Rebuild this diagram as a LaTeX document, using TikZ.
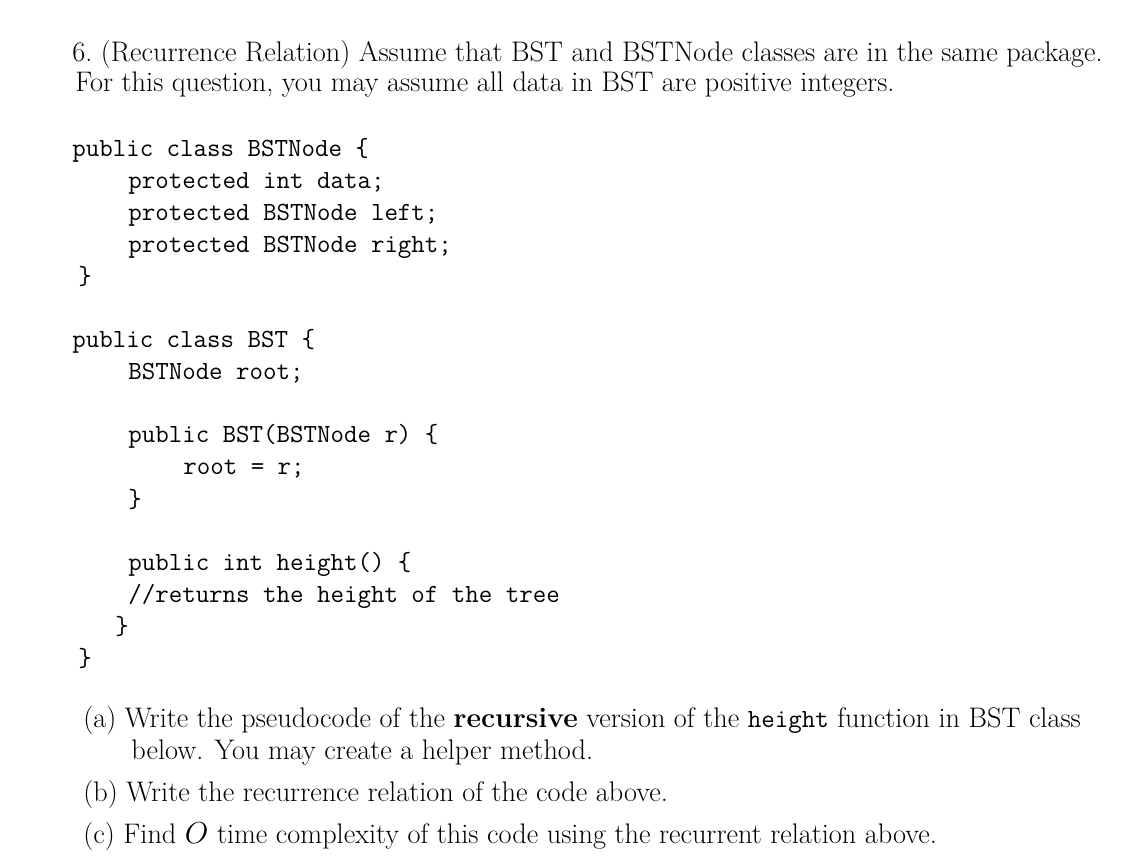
\documentclass[tikz,border=0pt]{standalone}
\begin{document}
\begin{tikzpicture}[x=0.02cm,y=-0.02cm,
  t/.style={anchor=base west,inner sep=0pt,font=\fontsize{16.1}{20}\selectfont},
  c/.style={anchor=base west,inner sep=0pt,font=\fontsize{14.9}{20}\selectfont\ttfamily}]
\useasboundingbox (0,0) rectangle (1132,864);
\node[t] (l1) at (72,62) {6.\ (Recurrence Relation) Assume that BST and BSTNode classes are in the same package.};
\node[t] (l2) at (75,92) {For this question, you may assume all data in BST are positive integers.};
\node[c] (c1) at (72,157) {public class BSTNode \{};
\node[c] (c2) at (128,189) {protected int data;};
\node[c] (c3) at (128,221) {protected BSTNode left;};
\node[c] (c4) at (128,253) {protected BSTNode right;};
\node[c] (c5) at (78,285) {\}};
\node[c] (c6) at (72,348) {public class BST \{};
\node[c] (c7) at (128,380) {BSTNode root;};
\node[c] (c8) at (128,443) {public BST(BSTNode r) \{};
\node[c] (c9) at (183,475) {root = r;};
\node[c] (c10) at (128,507) {\}};
\node[c] (c11) at (128,570) {public int height() \{};
\node[c] (c12) at (128,602) {//returns the height of the tree};
\node[c] (c13) at (115,634) {\}};
\node[c] (c14) at (78,666) {\}};
\node[t] (a1) at (83,727) {(a) Write the pseudocode of the \textbf{recursive} version of the {\fontsize{14.9}{20}\selectfont\texttt{height}} function in BST class};
\node[t] (a2) at (131,759) {below. You may create a helper method.};
\node[t] (b) at (83,801) {(b) Write the recurrence relation of the code above.};
\node[t] (cc) at (83,843) {(c) Find $O$ time complexity of this code using the recurrent relation above.};
\end{tikzpicture}
\end{document}
